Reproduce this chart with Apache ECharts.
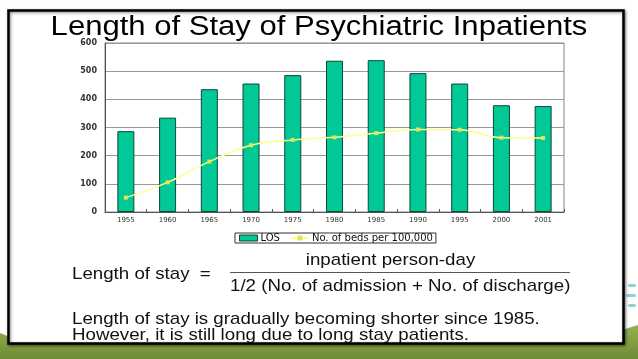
<!DOCTYPE html>
<html>
<head>
<meta charset="utf-8">
<script src="https://cdn.jsdelivr.net/npm/echarts@6/dist/echarts.min.js"></script>
<style>
html,body{margin:0;padding:0;background:#fff;}
#c{width:638px;height:359px;}
</style>
</head>
<body>
<div id="c"></div>
<script>
const titleText = 'Length of Stay of Psychiatric Inpatients';
const years = ['1955','1960','1965','1970','1975','1980','1985','1990','1995','2000','2001'];
const losValues = [287, 335, 436, 456, 486, 537, 539, 493, 456, 379, 376];
const bedValues = [51, 105, 179, 237, 256, 265, 280, 293, 292, 264, 263];
const yTicks = { min: 0, max: 600, interval: 100 };
const seriesNames = ['LOS', 'No. of beds per 100,000'];
const formulaLabel = 'Length of stay  =';
const numerator = 'inpatient person-day';
const denominator = '1/2 (No. of admission + No. of discharge)';
const noteLines = [
  'Length of stay is gradually becoming shorter since 1985.',
  'However, it is still long due to long stay patients.'
];

const chart = echarts.init(document.getElementById('c'), null, {renderer: 'canvas'});
const sans = 'Liberation Sans, Arial, sans-serif';
const wide = 'DejaVu Sans, sans-serif';

function txt(x, y, text, size, sx, align) {
  return {
    type: 'text', x: x, y: y, scaleX: sx, z: 10,
    style: { text: text, fontSize: size, fontFamily: sans, fill: '#111',
             align: align || 'left', verticalAlign: 'middle' }
  };
}

chart.setOption({
  animation: false,
  grid: { left: 105, right: 74, top: 43, bottom: 147, show: true,
          borderColor: '#888', borderWidth: 1, backgroundColor: 'transparent' },
  legend: {
    left: 235, top: 233, padding: [0, 3, 0, 4],
    borderColor: '#333', borderWidth: 1, backgroundColor: '#fff',
    itemWidth: 18, itemHeight: 6, itemGap: 10,
    textStyle: { fontSize: 10, fontFamily: wide, color: '#111', padding: [0, 0, 0, -2] },
    data: [
      { name: seriesNames[0], icon: 'rect', itemStyle: { color: '#00C896', borderColor: '#0A4A32', borderWidth: 1 } },
      { name: seriesNames[1] }
    ]
  },
  xAxis: {
    type: 'category', data: years, boundaryGap: true,
    axisLine: { lineStyle: { color: '#555', width: 1 } },
    axisTick: { show: true, inside: true, length: 3, interval: 0, lineStyle: { color: '#555' } },
    axisLabel: { fontSize: 7, fontFamily: wide, color: '#333', margin: 5, interval: 0 }
  },
  yAxis: {
    type: 'value', min: yTicks.min, max: yTicks.max, interval: yTicks.interval,
    axisLine: { show: true, lineStyle: { color: '#555', width: 1 } },
    axisTick: { show: false },
    splitLine: { lineStyle: { color: '#999', width: 1 } },
    axisLabel: { fontSize: 8, fontFamily: wide, fontWeight: 'bold', color: '#333', margin: 8 }
  },
  series: [
    { name: seriesNames[0], type: 'bar', data: losValues, barWidth: 17,
      itemStyle: { color: '#00C896', borderColor: '#0A4A32', borderWidth: 1 } },
    { name: seriesNames[1], type: 'line', data: bedValues, smooth: 0.4,
      symbol: 'rect', symbolSize: 4, z: 5,
      lineStyle: { color: '#FFFF90', width: 1.5 },
      itemStyle: { color: '#E4E650' } }
  ],
  graphic: [
    { type: 'rect', z: -20, shape: { x: 0, y: 0, width: 638, height: 359 }, style: { fill: '#fff' } },
    { type: 'polygon', z: -19, shape: { points: [[0,333],[10,337],[40,340],[600,340],[612,334],[625,329],[638,325],[638,359],[0,359]] },
      style: { fill: new echarts.graphic.LinearGradient(0,0,0,1,[{offset:0,color:'#94b052'},{offset:1,color:'#6f8c36'}]) } },
    { type: 'rect', z: -18, shape: { x: 628, y: 284, width: 8, height: 3, r: 1.5 }, style: { fill: '#8fd0d0' } },
    { type: 'rect', z: -18, shape: { x: 626, y: 294, width: 10, height: 3, r: 1.5 }, style: { fill: '#8fd0d0' } },
    { type: 'rect', z: -18, shape: { x: 628, y: 304, width: 8, height: 3, r: 1.5 }, style: { fill: '#8fd0d0' } },
    { type: 'rect', z: -17, shape: { x: 8.5, y: 10.5, width: 615, height: 333 },
      style: { fill: '#fff', stroke: '#000', lineWidth: 2.5, shadowBlur: 3, shadowOffsetX: 1, shadowOffsetY: 1, shadowColor: 'rgba(0,0,0,0.5)' } },
    {
      type: 'text', x: 319, y: 28, scaleX: 1.15, z: 10,
      style: { text: titleText, fontSize: 27, fontFamily: sans, fill: '#000', align: 'center', verticalAlign: 'middle' }
    },
    txt(390.5, 260.5, numerator, 17, 1.1, 'center'),
    { type: 'line', z: 10, shape: { x1: 230, y1: 272.5, x2: 570, y2: 272.5 }, style: { stroke: '#555', lineWidth: 1 } },
    txt(72, 274.5, formulaLabel, 17, 1.1, 'left'),
    txt(230, 286.5, denominator, 17, 1.1, 'left'),
    txt(72, 319.5, noteLines[0], 17, 1.1, 'left'),
    txt(72, 335.5, noteLines[1], 17, 1.1, 'left')
  ]
});
</script>
</body>
</html>
